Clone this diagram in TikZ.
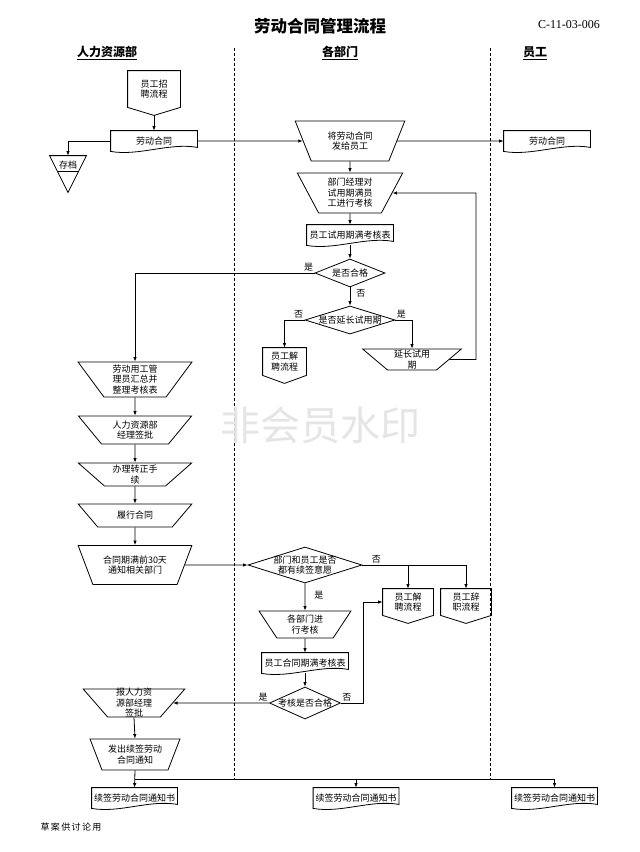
\documentclass[tikz,border=0pt]{standalone}
\usepackage{fontspec}
\setmainfont{Liberation Serif}
\newfontfamily\cjk{Noto Sans CJK SC}
\usetikzlibrary{shapes.geometric,positioning,calc,arrows.meta}

\begin{document}
\begin{tikzpicture}[x=1pt, y=-1pt, line width=0.8pt,
  arr/.style={-{Latex[length=4.5pt,width=3.5pt]}},
  lane/.style={dash pattern=on 3pt off 2pt},
  txt/.style={font=\cjk\fontsize{9}{10.5}\selectfont, align=center},
  yn/.style={font=\cjk\fontsize{9}{10}\selectfont, inner sep=1pt},
  head/.style={font=\cjk\bfseries\fontsize{12}{14}\selectfont},
  manual/.style={txt, trapezium, draw, trapezium left angle=#1, trapezium right angle=#1,
    trapezium stretches=true, inner sep=1pt},
  decide/.style={diamond, draw, inner sep=0pt, label={[txt]center:#1}},
  doc/.style={txt, rectangle, minimum width=86, minimum height=20, inner sep=0pt,
    append after command={\pgfextra{\draw (\tikzlastnode.north west) -- (\tikzlastnode.north east)
      -- ([yshift=4pt]\tikzlastnode.south east) .. controls +(-28,-5) and +(28,5) .. (\tikzlastnode.south west) -- cycle;}}},
  offpage/.style={txt, rectangle, inner sep=0pt,
    append after command={\pgfextra{\draw (\tikzlastnode.south west) -- (\tikzlastnode.north west)
      -- (\tikzlastnode.north east) -- (\tikzlastnode.south east) -- ([yshift=-8pt]\tikzlastnode.south) -- cycle;}}},
  archive/.style={minimum width=36, minimum height=36, inner sep=0pt,
    append after command={\pgfextra{\draw (\tikzlastnode.north west) -- (\tikzlastnode.north east) -- (\tikzlastnode.south) -- cycle;
      \draw ($(\tikzlastnode.north west)!0.42!(\tikzlastnode.south)$) -- ($(\tikzlastnode.north east)!0.42!(\tikzlastnode.south)$);}},
    label={[txt, yshift=9pt]center:存档}}
]
  \path[use as bounding box, fill=white] (0,0) rectangle (640,852);

  % Title and lanes
  \node[font=\cjk\bfseries\fontsize{16.5}{20}\selectfont] (title) at (320,26) {劳动合同管理流程};
  \node[font=\fontsize{12}{14}\selectfont] (code) at (569,25) {C-11-03-006};
  \node[head] (hHR) at (107,53) {\underline{人力资源部}};
  \node[head] (hDept) at (340,53) {\underline{各部门}};
  \node[head] (hEmp) at (535,53) {\underline{员工}};
  \draw[lane] (234,48) -- (234,779);
  \draw[lane] (490,48) -- (490,779);
  \node[font=\cjk\fontsize{40}{44}\selectfont, text=gray!20] (mark) at (320,425) {非会员水印};

  % Signing the contract
  \node[offpage, minimum width=52, minimum height=36] (recruit) at (154,89) {员工招\\聘流程};
  \node[doc] (contractHR) at (154,141) {劳动合同};
  \node[archive] (archive) at (68,174) {};
  \node[manual=115, minimum width=110, minimum height=40] (sendEmp) at (350,141) {将劳动合同\\发给员工};
  \node[doc] (contractEmp) at (547,141) {劳动合同};

  % Probation review
  \node[manual=117, minimum width=106, minimum height=40] (review) at (350,193) {部门经理对\\试用期满员\\工进行考核};
  \node[doc] (probForm) at (350,235) {员工试用期满考核表};
  \node[decide=是否合格, minimum width=70, minimum height=28] (pass1) at (350,273) {};
  \node[decide=是否延长试用期, minimum width=90, minimum height=28] (extend) at (350,320) {};
  \node[offpage, minimum width=43, minimum height=27] (dismissA) at (284.5,361.5) {员工解\\聘流程};
  \node[manual=133, minimum width=99, minimum height=21] (extendTrap) at (412,359.5) {延长试用\\期};
  \coordinate (loop) at (476,193);

  % HR side
  \node[manual=122, minimum width=114, minimum height=35] (summary) at (135,379.5) {劳动用工管\\理员汇总并\\整理考核表};
  \node[manual=128, minimum width=114, minimum height=28] (hrApprove) at (135,430) {人力资源部\\经理签批};
  \node[manual=134, minimum width=114, minimum height=23] (regular) at (135,474.5) {办理转正手\\续};
  \node[manual=134, minimum width=114, minimum height=23] (perform) at (135,515.5) {履行合同};
  \node[manual=119, minimum width=114, minimum height=39] (notify30) at (135,565) {合同期满前30天\\通知相关部门};

  % Renewal
  \node[decide=部门和员工是否\\都有续签意愿, minimum width=114, minimum height=36] (renew) at (305,565) {};
  \node[offpage, minimum width=50, minimum height=26] (dismissB) at (408,602) {员工解\\聘流程};
  \node[offpage, minimum width=50, minimum height=26] (resign) at (466,602) {员工辞\\职流程};
  \node[manual=120, minimum width=92, minimum height=27] (deptEval) at (305,624.5) {各部门进\\行考核};
  \node[doc] (contractForm) at (305,663) {员工合同期满考核表};
  \node[decide=考核是否合格, minimum width=71, minimum height=32] (pass2) at (305,703) {};
  \node[manual=125, minimum width=102, minimum height=28, inner ysep=-2pt] (hrSign) at (134,703) {报人力资\\源部经理\\签批};
  \node[manual=116, minimum width=90, minimum height=31] (sendNotice) at (135,754.5) {发出续签劳动\\合同通知};
  \node[doc, minimum width=85] (noticeHR) at (134.5,798) {续签劳动合同通知书};
  \node[doc, minimum width=85] (noticeDept) at (356,798) {续签劳动合同通知书};
  \node[doc, minimum width=85] (noticeEmp) at (554.5,798) {续签劳动合同通知书};
  \coordinate (bus) at (135,779);
  \node[font=\cjk\fontsize{9}{10}\selectfont\addfontfeature{LetterSpace=15}] (draft) at (71,827) {草案供讨论用};

  % Connectors
  \draw[arr] ([yshift=-8pt]recruit.south) -- (contractHR.north);
  \draw[arr] (contractHR.west) -| (archive.north);
  \draw[arr] (contractHR.east) -- (sendEmp.west);
  \draw[arr] (sendEmp.east) -- (contractEmp.west);
  \draw[arr] (sendEmp.south) -- (review.north);
  \draw[arr] (review.south) -- (probForm.north);
  \draw[arr] (probForm.south) -- (pass1.north);
  \draw[arr] (pass1.west) node[yn, above left] {是} -| (summary.north);
  \draw[arr] (pass1.south) node[yn, below right=1pt and 5pt] {否} -- (extend.north);
  \draw[arr] (extend.west) node[yn, above left] {否} -| (dismissA.north);
  \draw[arr] (extend.east) node[yn, above right] {是} -| (extendTrap.north);
  \draw[arr] (extendTrap.east) -| (loop) -- (review.east);
  \draw[arr] (summary.south) -- (hrApprove.north);
  \draw[arr] (hrApprove.south) -- (regular.north);
  \draw[arr] (regular.south) -- (perform.north);
  \draw[arr] (perform.south) -- (notify30.north);
  \draw[arr] (notify30.east) -- (renew.west);
  \draw[arr] (renew.east) node[yn, above right=0pt and 8pt] {否} -| (resign.north);
  \draw[arr] (renew.east -| dismissB.north) -- (dismissB.north);
  \draw[arr] (renew.south) -- node[yn, right=8pt, pos=0.45] {是} (deptEval.north);
  \draw[arr] (deptEval.south) -- (contractForm.north);
  \draw[arr] (contractForm.south) -- (pass2.north);
  \draw[arr] (pass2.west) node[yn, above left] {是} -- (hrSign.east);
  \draw[arr] (pass2.east) node[yn, above right] {否} -- ++(22,0) |- (dismissB.west);
  \draw[arr] (hrSign.south) -- (sendNotice.north);
  \draw[arr] (sendNotice.south) -- (noticeHR.north);
  \draw[arr] (bus) -| (noticeDept.north);
  \draw[arr] (bus) -| (noticeEmp.north);
\end{tikzpicture}
\end{document}
